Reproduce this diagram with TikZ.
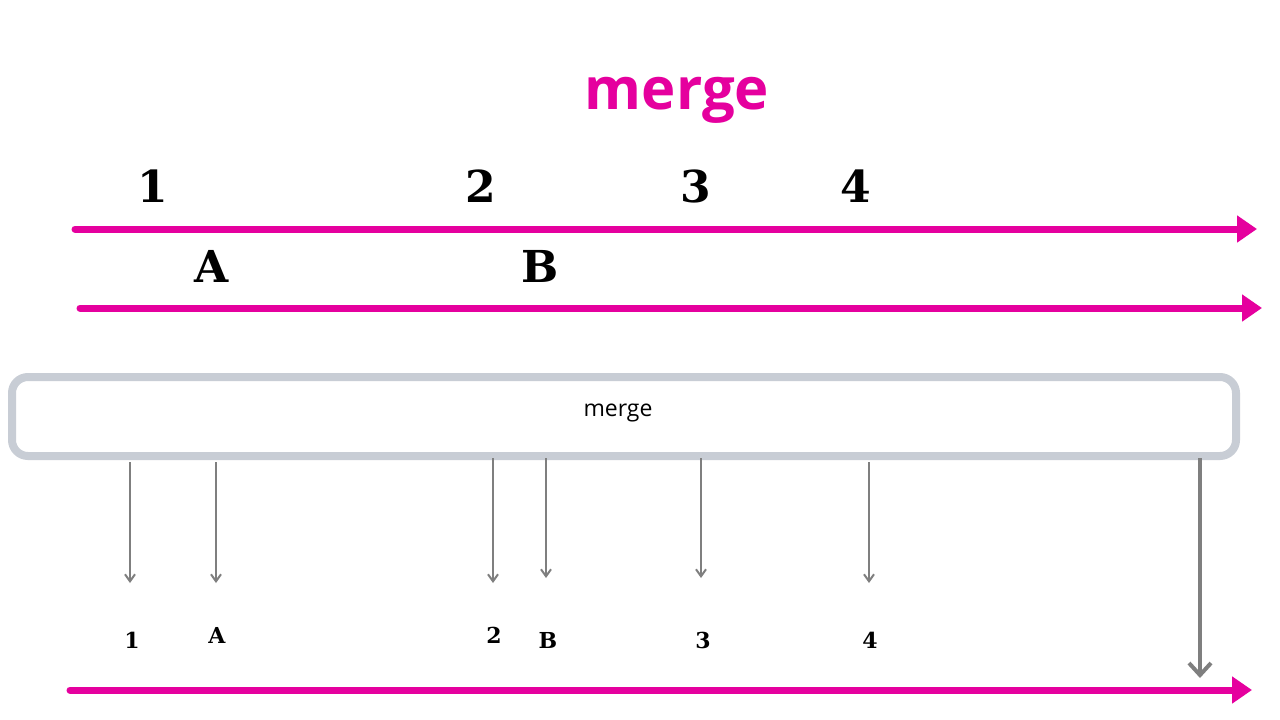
\documentclass[tikz,border=0pt]{standalone}
\usepackage{fontspec}
\setmainfont{Open Sans}
\newfontfamily\lblfont{DejaVu Serif}
\usetikzlibrary{arrows.meta}
\definecolor{mag}{HTML}{E5009E}
\definecolor{boxgray}{HTML}{C8CDD5}
\definecolor{arrgray}{HTML}{7F7F7F}
\begin{document}
\begin{tikzpicture}[x=1pt,y=-1pt,
  timeline/.style={draw=mag,line width=7pt,line cap=round,-{Triangle[length=20pt,width=26pt]}},
  big/.style={font=\lblfont\bfseries\fontsize{44}{44}\selectfont,inner sep=0},
  small/.style={font=\lblfont\bfseries\fontsize{22}{22}\selectfont,inner sep=0},
  thin/.style={draw=arrgray,line width=2pt,-{Straight Barb[length=7pt,width=10pt]}},
  thick/.style={draw=arrgray,line width=4pt,-{Straight Barb[length=12pt,width=22pt]}}]
\useasboundingbox[fill=white] (0,0) rectangle (1280,720);
\node[font=\bfseries\fontsize{58}{58}\selectfont,text=mag] (title) at (677,100) {merge};
% timeline 1
\coordinate (l1s) at (75,229); \coordinate (l1e) at (1257,229);
\draw[timeline] (l1s) -- (l1e);
\node[big] (n1) at (153,186) {1};
\node[big] (n2) at (481,186) {2};
\node[big] (n3) at (696,186) {3};
\node[big] (n4) at (856,186) {4};
% timeline 2
\coordinate (l2s) at (80,308); \coordinate (l2e) at (1262,308);
\draw[timeline] (l2s) -- (l2e);
\node[big] (nA) at (212,266) {A};
\node[big] (nB) at (540,266) {B};
% box
\draw[boxgray,line width=8pt,rounded corners=16pt] (12,377) rectangle (1236,456);
\node[font=\fontsize{23}{23}\selectfont] (mbox) at (618,413) {merge};
% thin arrows
\foreach \nm/\x/\ya/\yb in {a1/130/462/583,aA/216/462/583,a2/493/458/583,aB/546/458/578,a3/701/458/578,a4/869/462/583}{
  \coordinate (\nm s) at (\x,\ya); \coordinate (\nm e) at (\x,\yb);
  \draw[thin] (\nm s) -- (\nm e);
}
\coordinate (bs) at (1200,458); \coordinate (be) at (1200,678);
\draw[thick] (bs) -- (be);
% small labels
\node[small] (s1) at (132,640) {1};
\node[small] (sA) at (217,635) {A};
\node[small] (s2) at (494,635) {2};
\node[small] (sB) at (548,640) {B};
\node[small] (s3) at (703,640) {3};
\node[small] (s4) at (870,640) {4};
% bottom timeline
\coordinate (l3s) at (70,690); \coordinate (l3e) at (1252,690);
\draw[timeline] (l3s) -- (l3e);
\end{tikzpicture}
\end{document}
